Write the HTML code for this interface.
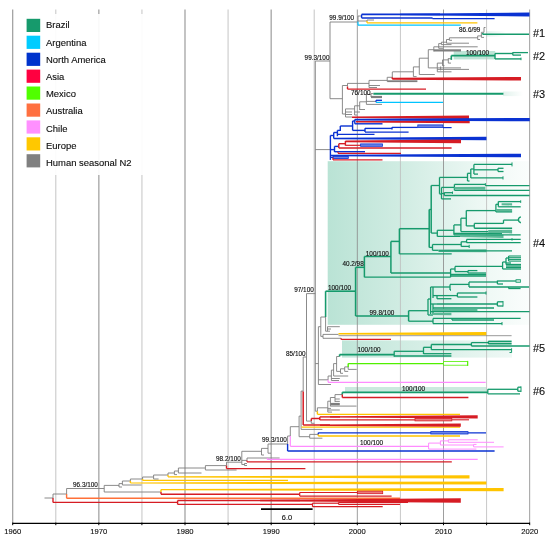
<!DOCTYPE html>
<html><head><meta charset="utf-8"><title>Phylogenetic tree</title>
<style>
html,body{margin:0;padding:0;background:#fff;}
body{width:550px;height:540px;overflow:hidden;}
svg{display:block;font-family:"Liberation Sans",sans-serif;fill:#0d0d0d;}
svg path:not([fill]){fill:none;}
svg text{stroke:#0d0d0d;stroke-width:0.12px;}
</style></head><body>
<svg width="550" height="540" viewBox="0 0 550 540">
<defs>
<linearGradient id="g4" x1="0" y1="0" x2="1" y2="0"><stop offset="0" stop-color="#14a070" stop-opacity="0.295"/><stop offset="0.36" stop-color="#14a070" stop-opacity="0.20"/><stop offset="0.8" stop-color="#14a070" stop-opacity="0.065"/><stop offset="1" stop-color="#14a070" stop-opacity="0.02"/></linearGradient>
<linearGradient id="g5" x1="0" y1="0" x2="1" y2="0"><stop offset="0" stop-color="#14a070" stop-opacity="0.27"/><stop offset="1" stop-color="#14a070" stop-opacity="0.07"/></linearGradient>
<linearGradient id="g1" x1="0" y1="0" x2="1" y2="0"><stop offset="0" stop-color="#169a6c" stop-opacity="0.13"/><stop offset="1" stop-color="#169a6c" stop-opacity="0"/></linearGradient>
</defs>
<rect width="550" height="540" fill="#fff"/>
<rect x="327.7" y="161.2" width="201.3" height="163.6" fill="url(#g4)"/>
<rect x="342" y="340.4" width="170" height="17.2" fill="url(#g5)"/>
<rect x="345" y="387" width="141.5" height="5" fill="#cbe9de"/>
<rect x="453.7" y="51" width="41.5" height="8.4" fill="#bfe4d6"/>
<rect x="486" y="31.2" width="20" height="5.4" fill="url(#g1)"/>
<rect x="503" y="91.5" width="20" height="4.6" fill="url(#g1)"/>
<path d="M12.67 9.5V523" stroke="#a4a4a4" stroke-width="1.3"/>
<path d="M55.75 9.5V523" stroke="#d2d2d2" stroke-width="1.3"/>
<path d="M98.84 9.5V523" stroke="#a4a4a4" stroke-width="1.3"/>
<path d="M141.92 9.5V523" stroke="#d2d2d2" stroke-width="1.3"/>
<path d="M185.00 9.5V523" stroke="#a4a4a4" stroke-width="1.3"/>
<path d="M228.09 9.5V523" stroke="#d2d2d2" stroke-width="1.3"/>
<path d="M271.17 9.5V523" stroke="#a4a4a4" stroke-width="1.3"/>
<path d="M314.25 9.5V523" stroke="#d2d2d2" stroke-width="1.3"/>
<path d="M357.34 9.5V523" stroke="#8c8c8c" stroke-width="0.85"/>
<path d="M400.42 9.5V523" stroke="#bebebe" stroke-width="0.85"/>
<path d="M443.50 9.5V523" stroke="#8c8c8c" stroke-width="0.85"/>
<path d="M486.59 9.5V523" stroke="#bebebe" stroke-width="0.85"/>
<path d="M529.67 9.5V523" stroke="#8c8c8c" stroke-width="0.85"/>
<path d="M44.5 498H53" stroke="#7e7e7e" stroke-width="0.9"/>
<path d="M53 494V498" stroke="#7e7e7e" stroke-width="0.9"/>
<path d="M53 498V502.4" stroke="#d61c24" stroke-width="1.4"/>
<path d="M53 502.4H177.6" stroke="#d61c24" stroke-width="1.4"/>
<path d="M177.6 500.5V504.4" stroke="#d61c24" stroke-width="1.4"/>
<path d="M177.6 504.4H312.5" stroke="#d61c24" stroke-width="1.2"/>
<path d="M312.5 503.2V506.7" stroke="#d61c24" stroke-width="1.2"/>
<path d="M312.5 503.2H338.5" stroke="#d61c24" stroke-width="1.2"/>
<path d="M338.5 502.4V504.3" stroke="#d61c24" stroke-width="1.2"/>
<path d="M338.5 502.4H408" stroke="#d61c24" stroke-width="1.1"/>
<path d="M338.5 504.4H400" stroke="#d61c24" stroke-width="1.1"/>
<path d="M312.5 506.7H382.7" stroke="#d61c24" stroke-width="1.2"/>
<path d="M53 494H66.6" stroke="#7e7e7e" stroke-width="0.9"/>
<path d="M66.6 488.5V494" stroke="#7e7e7e" stroke-width="0.9"/>
<path d="M66.6 494V498.3" stroke="#ff7038" stroke-width="1.4"/>
<path d="M66.6 498.3H400" stroke="#ff7038" stroke-width="1.5"/>
<path d="M177.6 500.5H300" stroke="#d61c24" stroke-width="1.4"/>
<path d="M260 499.8L460.8 498.3V502.7L260 501.2Z" fill="#d61c24" stroke="none"/>
<path d="M66.6 488.5H104.2" stroke="#7e7e7e" stroke-width="0.9"/>
<path d="M104.2 485.4V492" stroke="#7e7e7e" stroke-width="0.9"/>
<path d="M104.2 492H161" stroke="#7e7e7e" stroke-width="0.9"/>
<path d="M161 489.6V492" stroke="#ffc400" stroke-width="1.4"/>
<path d="M161 492V494.3" stroke="#d61c24" stroke-width="1.4"/>
<path d="M161 489L503.6 488V491.2L161 490.2Z" fill="#ffc400" stroke="none"/>
<path d="M161 494.3H299.7" stroke="#d61c24" stroke-width="1.4"/>
<path d="M299.7 492.5V496.1" stroke="#d61c24" stroke-width="1.2"/>
<path d="M299.7 492.5H357.4" stroke="#d61c24" stroke-width="1.2"/>
<rect x="357.4" y="491.1" width="25.3" height="2.6" fill="#e9787c" stroke="#d61c24" stroke-width="0.8"/>
<path d="M299.7 496.1H391.6" stroke="#d61c24" stroke-width="1.2"/>
<path d="M104.2 485.4H119" stroke="#7e7e7e" stroke-width="0.9"/>
<path d="M119 483.6V487" stroke="#7e7e7e" stroke-width="0.9"/>
<path d="M119 487H122" stroke="#7e7e7e" stroke-width="0.9"/>
<path d="M119 483.6H122.4" stroke="#7e7e7e" stroke-width="0.9"/>
<path d="M122.4 481V485" stroke="#7e7e7e" stroke-width="0.9"/>
<path d="M122.4 485H141.6" stroke="#7e7e7e" stroke-width="0.9"/>
<path d="M122.4 481H130.4" stroke="#7e7e7e" stroke-width="0.9"/>
<path d="M130.4 479V481" stroke="#7e7e7e" stroke-width="0.9"/>
<path d="M130.4 481V483" stroke="#ffc400" stroke-width="1.4"/>
<path d="M130.4 482.4L486.4 481.4V484.6L130.4 483.6Z" fill="#ffc400" stroke="none"/>
<path d="M130.4 479H142.6" stroke="#7e7e7e" stroke-width="0.9"/>
<path d="M142.6 477V479" stroke="#7e7e7e" stroke-width="0.9"/>
<path d="M142.6 479V480.4" stroke="#ffc400" stroke-width="1.4"/>
<path d="M142.6 480.4H288" stroke="#ffc400" stroke-width="1.3"/>
<path d="M142.6 477H153.6" stroke="#7e7e7e" stroke-width="0.9"/>
<path d="M153.6 475V479" stroke="#7e7e7e" stroke-width="0.9"/>
<path d="M153.6 479H158.6" stroke="#7e7e7e" stroke-width="0.9"/>
<path d="M153.6 475H168" stroke="#7e7e7e" stroke-width="0.9"/>
<path d="M168 473V475" stroke="#7e7e7e" stroke-width="0.9"/>
<path d="M168 475V476.8" stroke="#ffc400" stroke-width="1.4"/>
<path d="M168 476.2L469.5 475.2V478.4L168 477.4Z" fill="#ffc400" stroke="none"/>
<path d="M168 473H174.4" stroke="#7e7e7e" stroke-width="0.9"/>
<path d="M174.4 471V474.6" stroke="#7e7e7e" stroke-width="0.9"/>
<path d="M174.4 474.6H177" stroke="#7e7e7e" stroke-width="0.9"/>
<path d="M174.4 471H178.4" stroke="#7e7e7e" stroke-width="0.9"/>
<path d="M178.4 468V473" stroke="#7e7e7e" stroke-width="0.9"/>
<path d="M178.4 473H201.5" stroke="#7e7e7e" stroke-width="0.9"/>
<path d="M178.4 468H205.4" stroke="#7e7e7e" stroke-width="0.9"/>
<path d="M205.4 465.6V470" stroke="#7e7e7e" stroke-width="0.9"/>
<path d="M205.4 470H236.6" stroke="#7e7e7e" stroke-width="0.9"/>
<path d="M205.4 465.6H226.5" stroke="#7e7e7e" stroke-width="0.9"/>
<path d="M226.5 462.2V465.6" stroke="#7e7e7e" stroke-width="0.9"/>
<path d="M226.5 465.6V468.6" stroke="#d61c24" stroke-width="1.4"/>
<path d="M226.5 468.6H305.4" stroke="#d61c24" stroke-width="1.3"/>
<path d="M226.5 462.2H241.8" stroke="#7e7e7e" stroke-width="0.9"/>
<path d="M241.8 451.3V464.5" stroke="#7e7e7e" stroke-width="0.9"/>
<path d="M241.8 464.5H244.5" stroke="#7e7e7e" stroke-width="0.9"/>
<path d="M244.5 463.5V465.5" stroke="#7e7e7e" stroke-width="0.9"/>
<path d="M244.5 463.5H247" stroke="#7e7e7e" stroke-width="0.9"/>
<path d="M244.5 465.5H247" stroke="#7e7e7e" stroke-width="0.9"/>
<path d="M241.8 451.3H261.5" stroke="#7e7e7e" stroke-width="0.9"/>
<path d="M241.8 460.4H247" stroke="#7e7e7e" stroke-width="0.9"/>
<path d="M247 458V460.4" stroke="#7e7e7e" stroke-width="0.9"/>
<path d="M247 460.4V461.8" stroke="#d61c24" stroke-width="1.4"/>
<path d="M247 461.8H451.8" stroke="#d61c24" stroke-width="1.3"/>
<path d="M247 458H279.6" stroke="#7e7e7e" stroke-width="0.9"/>
<path d="M267.3 458V459.4" stroke="#ff8cff" stroke-width="1.2"/>
<path d="M267.3 459.4H477.7" stroke="#ff8cff" stroke-width="1.2"/>
<path d="M261.5 448.4V455" stroke="#7e7e7e" stroke-width="0.9"/>
<path d="M261.5 455H264" stroke="#7e7e7e" stroke-width="0.9"/>
<path d="M261.5 448.4H268" stroke="#7e7e7e" stroke-width="0.9"/>
<path d="M268 444V453.2" stroke="#7e7e7e" stroke-width="0.9"/>
<path d="M268 453.2H271" stroke="#7e7e7e" stroke-width="0.9"/>
<path d="M268 444H287.6" stroke="#7e7e7e" stroke-width="0.9"/>
<path d="M287.6 436V444" stroke="#7e7e7e" stroke-width="0.9"/>
<path d="M287.6 444V451" stroke="#0a32d2" stroke-width="1.4"/>
<path d="M287.6 451H494.6" stroke="#0a32d2" stroke-width="1.3"/>
<path d="M287.6 436H290.3" stroke="#7e7e7e" stroke-width="0.9"/>
<path d="M290.3 426.7V436" stroke="#7e7e7e" stroke-width="0.9"/>
<path d="M290.3 436V446.3" stroke="#ff8cff" stroke-width="1.2"/>
<path d="M290.3 446.3H428.6" stroke="#ff8cff" stroke-width="1.2"/>
<path d="M428.6 443.1V449.1" stroke="#ff8cff" stroke-width="1"/>
<path d="M428.6 443.1H440.4" stroke="#ff8cff" stroke-width="1"/>
<path d="M440.4 440.9V445" stroke="#ff8cff" stroke-width="1"/>
<path d="M440.4 440.9H448.3" stroke="#ff8cff" stroke-width="1"/>
<path d="M448.3 439.8V442.3" stroke="#ff8cff" stroke-width="1"/>
<path d="M448.3 439.8H477.7" stroke="#ff8cff" stroke-width="1"/>
<path d="M448.3 442.3H494" stroke="#ff8cff" stroke-width="1"/>
<path d="M440.4 445H473.6" stroke="#ff8cff" stroke-width="1"/>
<path d="M473.6 444.4V446.9" stroke="#ff8cff" stroke-width="1"/>
<path d="M473.6 444.4H476.5" stroke="#ff8cff" stroke-width="1"/>
<path d="M473.6 446.9H503.6" stroke="#ff8cff" stroke-width="1"/>
<path d="M428.6 449.1H476.4" stroke="#ff8cff" stroke-width="1"/>
<path d="M290.3 426.7H299.1" stroke="#7e7e7e" stroke-width="0.9"/>
<path d="M299.1 416.1V436.7" stroke="#7e7e7e" stroke-width="0.9"/>
<path d="M299.1 436.7H309.7" stroke="#7e7e7e" stroke-width="0.9"/>
<path d="M309.7 434.4V438.2" stroke="#7e7e7e" stroke-width="0.9"/>
<path d="M309.7 434.4H318.3" stroke="#7e7e7e" stroke-width="0.9"/>
<path d="M318.3 432.8V434.4" stroke="#0a32d2" stroke-width="1.4"/>
<path d="M318.3 434.4V436" stroke="#ffc400" stroke-width="1.4"/>
<path d="M318.3 432.8H486" stroke="#0a32d2" stroke-width="1.3"/>
<rect x="430.8" y="431.6" width="37.2" height="2.4" fill="#6a84e6" stroke="#0a32d2" stroke-width="0.8"/>
<path d="M318.3 436H460" stroke="#ffc400" stroke-width="1.3"/>
<path d="M309.7 438.2H322.4" stroke="#7e7e7e" stroke-width="0.9"/>
<path d="M299.1 416.1H301.1" stroke="#7e7e7e" stroke-width="0.9"/>
<path d="M301.1 391.1V429.4" stroke="#7e7e7e" stroke-width="0.9"/>
<path d="M301.1 429.4H322.4" stroke="#7e7e7e" stroke-width="0.9"/>
<path d="M301.5 427.2H460" stroke="#ffc400" stroke-width="1.3"/>
<path d="M301.1 391.1H303.2" stroke="#7e7e7e" stroke-width="0.9"/>
<path d="M303.2 357V391.5" stroke="#7e7e7e" stroke-width="0.9"/>
<path d="M303.2 391.5V425" stroke="#d61c24" stroke-width="1.5"/>
<path d="M303.2 425H330" stroke="#d61c24" stroke-width="1.5"/>
<path d="M320 424.4L460.8 423.6V426.8L320 425.9Z" fill="#d61c24" stroke="none"/>
<path d="M303.2 357H306.5" stroke="#7e7e7e" stroke-width="0.9"/>
<path d="M306.5 293.6V421.1" stroke="#7e7e7e" stroke-width="0.9"/>
<path d="M306.5 421.1H311.3" stroke="#7e7e7e" stroke-width="0.9"/>
<path d="M311.3 418.5V421.1" stroke="#d61c24" stroke-width="1.4"/>
<path d="M311.3 421.1V423.3" stroke="#7e7e7e" stroke-width="0.9"/>
<path d="M311.3 423.3H314.5" stroke="#7e7e7e" stroke-width="0.9"/>
<path d="M311.3 418.5H319.8" stroke="#d61c24" stroke-width="1.5"/>
<path d="M319.8 416.9V419.9" stroke="#d61c24" stroke-width="1.4"/>
<path d="M319.8 416.9H340" stroke="#d61c24" stroke-width="1.4"/>
<path d="M330 416.2L477.7 415.3V418.5L330 417.6Z" fill="#d61c24" stroke="none"/>
<path d="M319.8 419.9H415" stroke="#d61c24" stroke-width="1.2"/>
<rect x="415" y="418.5" width="36.8" height="2.4" fill="#e9787c" stroke="#d61c24" stroke-width="0.8"/>
<path d="M451.8 419.8H469" stroke="#d61c24" stroke-width="1.1"/>
<path d="M306.5 293.6H315.3" stroke="#7e7e7e" stroke-width="0.9"/>
<path d="M315.3 61V411.2" stroke="#7e7e7e" stroke-width="0.9"/>
<path d="M315.3 411.2H317.4" stroke="#7e7e7e" stroke-width="0.9"/>
<path d="M317.4 407.8V411.2" stroke="#7e7e7e" stroke-width="0.9"/>
<path d="M317.4 411.2V414.3" stroke="#ffc400" stroke-width="1.4"/>
<path d="M317.4 414.3H460" stroke="#ffc400" stroke-width="1.3"/>
<path d="M317.4 407.8H327.8" stroke="#7e7e7e" stroke-width="0.9"/>
<path d="M327.8 401.2V412.1" stroke="#7e7e7e" stroke-width="0.9"/>
<path d="M327.8 408.4H331" stroke="#7e7e7e" stroke-width="0.9"/>
<path d="M327.8 410H339.8" stroke="#7e7e7e" stroke-width="0.9"/>
<path d="M327.8 412.1H332" stroke="#7e7e7e" stroke-width="0.9"/>
<path d="M327.8 401.2H330.4" stroke="#7e7e7e" stroke-width="0.9"/>
<path d="M330.4 397.5V406.3" stroke="#7e7e7e" stroke-width="0.9"/>
<path d="M330.4 404.1H339.8" stroke="#7e7e7e" stroke-width="2.4"/>
<path d="M330.4 406.1H356.5" stroke="#7e7e7e" stroke-width="0.9"/>
<path d="M330.4 397.5H335" stroke="#7e7e7e" stroke-width="0.9"/>
<path d="M335 394.6V401.9" stroke="#7e7e7e" stroke-width="0.9"/>
<path d="M335 399H339.8" stroke="#7e7e7e" stroke-width="0.9"/>
<path d="M335 401.4H339.8" stroke="#7e7e7e" stroke-width="0.9"/>
<path d="M335 394.6H342.3" stroke="#7e7e7e" stroke-width="0.9"/>
<path d="M342.3 392.3V394.6" stroke="#169a6c" stroke-width="1.6"/>
<path d="M342.3 394.6V397.5" stroke="#d61c24" stroke-width="1.4"/>
<path d="M342.3 392.3H487.8" stroke="#169a6c" stroke-width="1.8"/>
<path d="M342.3 397.5H468.4" stroke="#d61c24" stroke-width="1.3"/>
<path d="M487.8 389.3V393.8" stroke="#169a6c" stroke-width="1.3"/>
<path d="M487.8 389.3H517.8" stroke="#169a6c" stroke-width="1.3"/>
<path d="M517.8 387.2V391.2" stroke="#169a6c" stroke-width="1.3"/>
<path d="M517.8 387.2H521" stroke="#169a6c" stroke-width="1.3"/>
<path d="M517.8 391.2H521" stroke="#169a6c" stroke-width="1.3"/>
<path d="M521 386.4V392" stroke="#169a6c" stroke-width="1"/>
<path d="M487.8 393.8H520" stroke="#169a6c" stroke-width="1.3"/>
<path d="M315.3 363.6H318.4" stroke="#7e7e7e" stroke-width="0.9"/>
<path d="M318.4 326.7V384.5" stroke="#7e7e7e" stroke-width="0.9"/>
<path d="M318.4 384.5H331" stroke="#7e7e7e" stroke-width="0.9"/>
<path d="M318.4 379.8H328.1" stroke="#7e7e7e" stroke-width="0.9"/>
<path d="M328.1 376V379.8" stroke="#7e7e7e" stroke-width="0.9"/>
<path d="M328.1 379.8V382.3" stroke="#ff8cff" stroke-width="1.2"/>
<path d="M328.1 382.3H485.7" stroke="#ff8cff" stroke-width="1.2"/>
<path d="M328.1 376H331.4" stroke="#7e7e7e" stroke-width="0.9"/>
<path d="M331.4 370.1V380.5" stroke="#7e7e7e" stroke-width="0.9"/>
<path d="M331.4 378.5H339.8" stroke="#7e7e7e" stroke-width="0.9"/>
<path d="M331.4 380.5H339" stroke="#7e7e7e" stroke-width="0.9"/>
<path d="M331.4 370.1H333.6" stroke="#7e7e7e" stroke-width="0.9"/>
<path d="M333.6 363.6V376" stroke="#7e7e7e" stroke-width="0.9"/>
<path d="M333.6 376H348.2" stroke="#7e7e7e" stroke-width="0.9"/>
<path d="M333.6 363.6H336.6" stroke="#7e7e7e" stroke-width="0.9"/>
<path d="M336.6 356.5V371.4" stroke="#7e7e7e" stroke-width="0.9"/>
<path d="M336.6 356.5H339.6" stroke="#7e7e7e" stroke-width="0.9"/>
<path d="M339.6 354.4V356.5" stroke="#169a6c" stroke-width="1.6"/>
<path d="M339.6 354.6H394.2" stroke="#169a6c" stroke-width="1.8"/>
<path d="M336.6 371.4H340.5" stroke="#7e7e7e" stroke-width="0.9"/>
<path d="M340.5 368.8V373.3" stroke="#7e7e7e" stroke-width="0.9"/>
<path d="M340.5 373.3H343" stroke="#7e7e7e" stroke-width="0.9"/>
<path d="M340.5 368.8H344.7" stroke="#7e7e7e" stroke-width="0.9"/>
<path d="M344.7 366.9V371.4" stroke="#7e7e7e" stroke-width="0.9"/>
<path d="M344.7 371.4H348.2" stroke="#7e7e7e" stroke-width="0.9"/>
<path d="M344.7 366.9H348.2" stroke="#7e7e7e" stroke-width="0.9"/>
<path d="M348.2 363.6V366.9" stroke="#50f000" stroke-width="1.4"/>
<path d="M348.2 366.9V369.4" stroke="#7e7e7e" stroke-width="0.9"/>
<path d="M348.2 369.4H356.7" stroke="#7e7e7e" stroke-width="0.9"/>
<path d="M348.2 363.6H443.6" stroke="#50f000" stroke-width="1.3"/>
<rect x="443.6" y="361.6" width="24.1" height="3.6" fill="#ffffff" stroke="#50f000" stroke-width="0.8"/>
<path d="M467.7 360.9V366" stroke="#50f000" stroke-width="1"/>
<path d="M394.2 351.3V356.8" stroke="#169a6c" stroke-width="1.3"/>
<path d="M394.2 351.3H423.5" stroke="#169a6c" stroke-width="1.3"/>
<path d="M394.2 356H451.4" stroke="#169a6c" stroke-width="1.3"/>
<path d="M423.5 347.3V354" stroke="#169a6c" stroke-width="1.3"/>
<path d="M423.5 347.3H431.3" stroke="#169a6c" stroke-width="1.3"/>
<path d="M423.5 353.7H451.4" stroke="#169a6c" stroke-width="1.3"/>
<path d="M431.3 344.5V349.7" stroke="#169a6c" stroke-width="1.3"/>
<path d="M431.3 344.5H471.4" stroke="#169a6c" stroke-width="1.3"/>
<path d="M431.3 349.7H511.6" stroke="#169a6c" stroke-width="1.3"/>
<path d="M511.6 348.3V352.5" stroke="#169a6c" stroke-width="1"/>
<path d="M509.5 352.5H511.6" stroke="#169a6c" stroke-width="1"/>
<path d="M471.4 342.6V346" stroke="#169a6c" stroke-width="1.3"/>
<path d="M471.4 342.6H488.4" stroke="#169a6c" stroke-width="1.3"/>
<path d="M488.4 341.2V344" stroke="#169a6c" stroke-width="1.3"/>
<path d="M488.4 341.4H511.6" stroke="#169a6c" stroke-width="1.6"/>
<path d="M488.4 343.7H511.6" stroke="#169a6c" stroke-width="1.6"/>
<path d="M471.4 346H529.6" stroke="#169a6c" stroke-width="1.3"/>
<path d="M318.4 326.7H320.8" stroke="#7e7e7e" stroke-width="0.9"/>
<path d="M320.8 317V336.4" stroke="#7e7e7e" stroke-width="0.9"/>
<path d="M320.8 317H325.6" stroke="#7e7e7e" stroke-width="0.9"/>
<path d="M325.6 291.2V317" stroke="#169a6c" stroke-width="1.6"/>
<path d="M325.6 317V331.2" stroke="#7e7e7e" stroke-width="0.9"/>
<path d="M325.6 331.2H330" stroke="#7e7e7e" stroke-width="0.9"/>
<path d="M327.5 326.7V331.2" stroke="#7e7e7e" stroke-width="0.9"/>
<path d="M327.5 326.7H339.8" stroke="#7e7e7e" stroke-width="0.9"/>
<path d="M327.5 329H331" stroke="#7e7e7e" stroke-width="0.9"/>
<path d="M320.8 336.4H323" stroke="#7e7e7e" stroke-width="0.9"/>
<path d="M323 334.4V338.3" stroke="#7e7e7e" stroke-width="0.9"/>
<path d="M323 334.4H338.5" stroke="#7e7e7e" stroke-width="0.9"/>
<path d="M338.5 335.7H511.6" stroke="#7e7e7e" stroke-width="0.8"/>
<path d="M338.5 333L486.3 332.1V335.3L338.5 334.4Z" fill="#ffc400" stroke="none"/>
<path d="M323 338.3H341.1" stroke="#7e7e7e" stroke-width="0.9"/>
<path d="M341.1 338.3V339.4" stroke="#d61c24" stroke-width="1.4"/>
<path d="M341.1 339.4H391" stroke="#d61c24" stroke-width="1.3"/>
<path d="M325.6 291.2H355.6" stroke="#169a6c" stroke-width="1.6"/>
<path d="M355.6 267.3V316" stroke="#169a6c" stroke-width="1.6"/>
<path d="M355.6 267.3H364.4" stroke="#169a6c" stroke-width="1.6"/>
<path d="M355.6 316H408.6" stroke="#169a6c" stroke-width="1.5"/>
<path d="M364.4 256.5V277.3" stroke="#169a6c" stroke-width="1.5"/>
<path d="M364.4 256.5H390.9" stroke="#169a6c" stroke-width="1.5"/>
<path d="M364.4 277.2H450.6" stroke="#169a6c" stroke-width="1.3"/>
<path d="M390.9 241.4V273" stroke="#169a6c" stroke-width="1.5"/>
<path d="M390.9 241.4H399.4" stroke="#169a6c" stroke-width="1.5"/>
<path d="M390.9 273H450.6" stroke="#169a6c" stroke-width="1.3"/>
<path d="M399.4 228.7V253.9" stroke="#169a6c" stroke-width="1.5"/>
<path d="M399.4 228.7H429.2" stroke="#169a6c" stroke-width="1.5"/>
<path d="M399.4 253.9H451.7" stroke="#169a6c" stroke-width="1.3"/>
<path d="M429.2 209.5V247.4" stroke="#169a6c" stroke-width="1.5"/>
<path d="M429.2 209.5H431.2" stroke="#169a6c" stroke-width="1.3"/>
<path d="M431.2 185.5V233.1" stroke="#169a6c" stroke-width="1.5"/>
<path d="M431.2 185.5H439.5" stroke="#169a6c" stroke-width="1.3"/>
<path d="M439.5 177.4V193.2" stroke="#169a6c" stroke-width="1.3"/>
<path d="M439.5 177.4H467.5" stroke="#169a6c" stroke-width="1.3"/>
<path d="M467.5 173.3V181" stroke="#169a6c" stroke-width="1.3"/>
<path d="M467.5 181H469.5" stroke="#169a6c" stroke-width="1.3"/>
<path d="M467.5 173.3H470.8" stroke="#169a6c" stroke-width="1.3"/>
<path d="M470.8 169V177.9" stroke="#169a6c" stroke-width="1.3"/>
<path d="M470.8 177.9H503" stroke="#169a6c" stroke-width="1.3"/>
<path d="M503 176.3V179.5" stroke="#169a6c" stroke-width="1"/>
<path d="M470.8 169H473.9" stroke="#169a6c" stroke-width="1.3"/>
<path d="M473.9 164.4V174.1" stroke="#169a6c" stroke-width="1.3"/>
<path d="M473.9 164.4H512" stroke="#169a6c" stroke-width="1.3"/>
<path d="M512 162.4V166.4" stroke="#169a6c" stroke-width="1"/>
<path d="M473.9 174.1H478" stroke="#169a6c" stroke-width="1.3"/>
<path d="M473.9 169.8H498" stroke="#169a6c" stroke-width="1.3"/>
<path d="M498 168.3V171.5" stroke="#169a6c" stroke-width="1.3"/>
<path d="M498 168.3H503.5" stroke="#169a6c" stroke-width="1.3"/>
<path d="M498 171.5H503.5" stroke="#169a6c" stroke-width="1.3"/>
<path d="M439.5 193.2V194" stroke="#169a6c" stroke-width="1.3"/>
<path d="M439.5 194H441.5" stroke="#169a6c" stroke-width="1.3"/>
<path d="M441.5 187.4V198.9" stroke="#169a6c" stroke-width="1.3"/>
<path d="M441.5 187.4H454.4" stroke="#169a6c" stroke-width="1.3"/>
<path d="M454.4 184.4V190.3" stroke="#169a6c" stroke-width="1.3"/>
<path d="M454.4 184.4H485.4" stroke="#169a6c" stroke-width="1.3"/>
<path d="M485.4 183.2V185.8" stroke="#169a6c" stroke-width="1"/>
<path d="M485.4 185.7H529.5" stroke="#169a6c" stroke-width="1.3"/>
<path d="M454.4 187.1L485.4 186.8V189.8L454.4 189.5Z" fill="#5bb896" stroke="none"/>
<path d="M454.4 190.3H529.5" stroke="#169a6c" stroke-width="1.3"/>
<path d="M441.5 193.5H444.3" stroke="#169a6c" stroke-width="1.3"/>
<path d="M444.3 192.6V195.5" stroke="#169a6c" stroke-width="1.3"/>
<path d="M444.3 192.7H452.5" stroke="#169a6c" stroke-width="1.3"/>
<path d="M452.5 191.5V193.9" stroke="#169a6c" stroke-width="1"/>
<path d="M444.3 195.5H529.5" stroke="#169a6c" stroke-width="1.3"/>
<path d="M441.5 198.9H451" stroke="#169a6c" stroke-width="1.3"/>
<path d="M431.2 233.1H437.3" stroke="#169a6c" stroke-width="1.3"/>
<path d="M437.3 230.3V236.4" stroke="#169a6c" stroke-width="1.3"/>
<path d="M437.3 230.3H453.9" stroke="#169a6c" stroke-width="1.3"/>
<path d="M437.3 236.4H470" stroke="#169a6c" stroke-width="1.3"/>
<path d="M460 235.8L503.5 234.8V238L460 237.1Z" fill="#5bb896" stroke="none"/>
<path d="M453.9 224.9V234.8" stroke="#169a6c" stroke-width="1.3"/>
<path d="M453.9 224.9H460.9" stroke="#169a6c" stroke-width="1.3"/>
<path d="M453.9 233.5H502" stroke="#169a6c" stroke-width="1.3"/>
<path d="M453.9 234.9H520.7" stroke="#169a6c" stroke-width="1.3"/>
<path d="M460.9 218.2V231.6" stroke="#169a6c" stroke-width="1.3"/>
<path d="M460.9 218.2H466.3" stroke="#169a6c" stroke-width="1.3"/>
<path d="M460.9 231.6H488.2" stroke="#169a6c" stroke-width="1.3"/>
<path d="M488.2 230.1L512.1 229.8V233.4L488.2 233.1Z" fill="#5bb896" stroke="none"/>
<path d="M466.3 210.6V225.9" stroke="#169a6c" stroke-width="1.3"/>
<path d="M466.3 210.6H495.9" stroke="#169a6c" stroke-width="1.3"/>
<path d="M466.3 225.9H474.3" stroke="#169a6c" stroke-width="1.3"/>
<path d="M474.3 223.4V228.3" stroke="#169a6c" stroke-width="1.3"/>
<path d="M474.3 223.4H503.5" stroke="#169a6c" stroke-width="1.3"/>
<path d="M474.3 228.3H512.1" stroke="#169a6c" stroke-width="1.5"/>
<path d="M503.5 220.1V223.4" stroke="#169a6c" stroke-width="1.3"/>
<path d="M503.5 220.1H518.8" stroke="#169a6c" stroke-width="1.3"/>
<path d="M520.9 216.9C517.6 217.6 517.6 222 520.9 222.7" stroke="#169a6c" stroke-width="1.4"/>
<path d="M495.9 204.3V211.9" stroke="#169a6c" stroke-width="1.3"/>
<path d="M495.9 204.3H498.3" stroke="#169a6c" stroke-width="1.3"/>
<path d="M498.3 201.6V206.8" stroke="#169a6c" stroke-width="1.3"/>
<path d="M498.3 201.6H520.7" stroke="#169a6c" stroke-width="1.3"/>
<path d="M520.7 200.3V202.9" stroke="#169a6c" stroke-width="1"/>
<path d="M501.6 203.3L512.1 203.2V205.4L501.6 205.3Z" fill="#5bb896" stroke="none"/>
<path d="M498.3 206.8H520.7" stroke="#169a6c" stroke-width="1.3"/>
<path d="M495.9 209.1L512.1 209V211.4L495.9 211.3Z" fill="#5bb896" stroke="none"/>
<path d="M495.9 211.9H512.1" stroke="#169a6c" stroke-width="1.3"/>
<path d="M429.2 247.4H432.5" stroke="#169a6c" stroke-width="1.3"/>
<path d="M432.5 244.5V250.3" stroke="#169a6c" stroke-width="1.3"/>
<path d="M432.5 244.5H461.2" stroke="#169a6c" stroke-width="1.3"/>
<path d="M461.2 241.8V246.4" stroke="#169a6c" stroke-width="1.3"/>
<path d="M461.2 241.8H466.6" stroke="#169a6c" stroke-width="1.3"/>
<path d="M466.6 239.4V242.7" stroke="#169a6c" stroke-width="1.3"/>
<path d="M466.6 239.4H520.7" stroke="#169a6c" stroke-width="1.3"/>
<path d="M512 238.2V240.6" stroke="#169a6c" stroke-width="1"/>
<path d="M466.6 242.7H520.7" stroke="#169a6c" stroke-width="1.3"/>
<path d="M461.2 246.4H469.2" stroke="#169a6c" stroke-width="1.3"/>
<path d="M469.2 244.8V248" stroke="#169a6c" stroke-width="1"/>
<path d="M432.5 250.3H438.6" stroke="#169a6c" stroke-width="1.3"/>
<path d="M438.6 249.6L486.6 249.3V252.3L438.6 252Z" fill="#5bb896" stroke="none"/>
<path d="M438.6 250.8H512" stroke="#169a6c" stroke-width="1.3"/>
<path d="M450.6 269V277.2" stroke="#169a6c" stroke-width="1.3"/>
<path d="M450.6 269H455" stroke="#169a6c" stroke-width="1.3"/>
<path d="M455 266.4V271.6" stroke="#169a6c" stroke-width="1.3"/>
<path d="M455 266.4H502.6" stroke="#169a6c" stroke-width="1.3"/>
<path d="M455 271.6H468" stroke="#169a6c" stroke-width="1.3"/>
<path d="M468 270.6V273" stroke="#169a6c" stroke-width="1.3"/>
<path d="M468 270.6H477.4" stroke="#169a6c" stroke-width="1.3"/>
<path d="M468 273H486" stroke="#169a6c" stroke-width="1.3"/>
<path d="M450.6 274.5H486" stroke="#169a6c" stroke-width="1.3"/>
<path d="M450.6 276H486" stroke="#169a6c" stroke-width="1.3"/>
<path d="M502.6 262V269" stroke="#169a6c" stroke-width="1.3"/>
<path d="M502.6 262H506" stroke="#169a6c" stroke-width="1.3"/>
<path d="M506 258V264.4" stroke="#169a6c" stroke-width="1.3"/>
<path d="M506 258H508.6" stroke="#169a6c" stroke-width="1.3"/>
<path d="M508.6 256V261" stroke="#169a6c" stroke-width="1.3"/>
<path d="M508.6 256H521" stroke="#169a6c" stroke-width="1.1"/>
<path d="M508.6 257.7H521" stroke="#169a6c" stroke-width="1.1"/>
<path d="M508.6 259.4H521" stroke="#169a6c" stroke-width="1.1"/>
<path d="M508.6 261.1H521" stroke="#169a6c" stroke-width="1.1"/>
<path d="M506 263H511" stroke="#169a6c" stroke-width="1.3"/>
<path d="M506 264.5H521" stroke="#169a6c" stroke-width="1.3"/>
<path d="M506 266H521" stroke="#169a6c" stroke-width="1.3"/>
<path d="M506 267.5H521" stroke="#169a6c" stroke-width="1.3"/>
<path d="M502.6 269H521" stroke="#169a6c" stroke-width="1.3"/>
<path d="M408.6 310.7V321.2" stroke="#169a6c" stroke-width="1.5"/>
<path d="M408.6 310.7H428" stroke="#169a6c" stroke-width="1.3"/>
<path d="M408.6 321.2H433" stroke="#169a6c" stroke-width="1.3"/>
<path d="M428 299V315" stroke="#169a6c" stroke-width="1.3"/>
<path d="M428 299H430.6" stroke="#169a6c" stroke-width="1.3"/>
<path d="M430.6 287V314" stroke="#169a6c" stroke-width="1.3"/>
<path d="M430.6 287H433" stroke="#169a6c" stroke-width="1.3"/>
<path d="M433 287V298" stroke="#169a6c" stroke-width="1.3"/>
<path d="M433 287H450" stroke="#169a6c" stroke-width="1.3"/>
<path d="M450 284.4V290" stroke="#169a6c" stroke-width="1.3"/>
<path d="M450 290H451" stroke="#169a6c" stroke-width="1.3"/>
<path d="M450 284.4H469" stroke="#169a6c" stroke-width="1.3"/>
<path d="M469 282V287" stroke="#169a6c" stroke-width="1.3"/>
<path d="M469 282H497.4" stroke="#169a6c" stroke-width="1.3"/>
<path d="M497.4 280.6V284" stroke="#169a6c" stroke-width="1.3"/>
<path d="M497.4 284H503" stroke="#169a6c" stroke-width="1.3"/>
<path d="M497.4 281H516" stroke="#169a6c" stroke-width="1.3"/>
<rect x="516" y="279.7" width="4.6" height="2.6" fill="#bfe4d6" stroke="#169a6c" stroke-width="0.8"/>
<path d="M469 287H529" stroke="#169a6c" stroke-width="1.3"/>
<path d="M508.6 287V288.5" stroke="#169a6c" stroke-width="1.3"/>
<path d="M508.6 288.5H520.6" stroke="#169a6c" stroke-width="1.3"/>
<path d="M433 295.6H437" stroke="#169a6c" stroke-width="1.3"/>
<path d="M437 295.6V298.8" stroke="#169a6c" stroke-width="1.3"/>
<path d="M437 295.6H457.4" stroke="#169a6c" stroke-width="1.3"/>
<path d="M457.4 293V297" stroke="#169a6c" stroke-width="1.3"/>
<path d="M457.4 293H486" stroke="#169a6c" stroke-width="1.3"/>
<path d="M486 291.4V294.6" stroke="#169a6c" stroke-width="1"/>
<path d="M457.4 297H477.4" stroke="#169a6c" stroke-width="1.3"/>
<path d="M437 298.7H451.4" stroke="#169a6c" stroke-width="1.3"/>
<path d="M430.6 304H437" stroke="#169a6c" stroke-width="1.3"/>
<path d="M437 304H497.4" stroke="#169a6c" stroke-width="1.3"/>
<path d="M497.4 301.8V306" stroke="#169a6c" stroke-width="1.3"/>
<path d="M497.4 301.8H503" stroke="#169a6c" stroke-width="1.3"/>
<path d="M497.4 306H503" stroke="#169a6c" stroke-width="1.3"/>
<path d="M503 301V306.6" stroke="#169a6c" stroke-width="1"/>
<path d="M433 304V314" stroke="#169a6c" stroke-width="1.3"/>
<path d="M433 308H494" stroke="#169a6c" stroke-width="1.3"/>
<path d="M433 309L477.4 308.8V311.2L433 311Z" fill="#5bb896" stroke="none"/>
<path d="M430.6 311.6H529.5" stroke="#169a6c" stroke-width="1.3"/>
<path d="M433 312.9L451.4 312.7V315.3L433 315.1Z" fill="#5bb896" stroke="none"/>
<path d="M428 315H433" stroke="#169a6c" stroke-width="1.3"/>
<path d="M433 318.4V323.6" stroke="#169a6c" stroke-width="1.3"/>
<path d="M433 318.4H520.6" stroke="#169a6c" stroke-width="1.3"/>
<path d="M452 318.4V320" stroke="#169a6c" stroke-width="1.3"/>
<path d="M452 320H494" stroke="#169a6c" stroke-width="1.3"/>
<path d="M433 323.6H502" stroke="#169a6c" stroke-width="1.3"/>
<path d="M502 322V325.2" stroke="#169a6c" stroke-width="1"/>
<path d="M315.3 61H330" stroke="#7e7e7e" stroke-width="0.9"/>
<path d="M330 22V98.7" stroke="#7e7e7e" stroke-width="0.9"/>
<path d="M330 22H358" stroke="#7e7e7e" stroke-width="0.9"/>
<path d="M358 16V21.5" stroke="#7e7e7e" stroke-width="0.9"/>
<path d="M358 21.5V25.2" stroke="#00c4ff" stroke-width="1.2"/>
<path d="M358 25.2H460.8" stroke="#00c4ff" stroke-width="1.3"/>
<path d="M358 16H361.6" stroke="#7e7e7e" stroke-width="0.9"/>
<path d="M361.6 14.4V17.9" stroke="#0a32d2" stroke-width="1.4"/>
<path d="M361.6 14.4H440" stroke="#0a32d2" stroke-width="1.7"/>
<path d="M400 13.7L529.5 12.6V16.4L400 15.3Z" fill="#0a32d2" stroke="none"/>
<path d="M361.6 17.9H432.5" stroke="#0a32d2" stroke-width="1.5"/>
<path d="M432.5 17.9V18.6" stroke="#0a32d2" stroke-width="1.4"/>
<path d="M432.5 18.6H494.6" stroke="#0a32d2" stroke-width="1.3"/>
<path d="M358 21H367" stroke="#7e7e7e" stroke-width="0.9"/>
<path d="M367 20V21" stroke="#7e7e7e" stroke-width="0.9"/>
<path d="M367 21V22.8" stroke="#ffc400" stroke-width="1.4"/>
<path d="M367 20H374" stroke="#7e7e7e" stroke-width="0.9"/>
<path d="M367 22.8H477.4" stroke="#ffc400" stroke-width="1.3"/>
<path d="M330 98.7H342.4" stroke="#7e7e7e" stroke-width="0.9"/>
<path d="M342.4 85.5V114" stroke="#7e7e7e" stroke-width="0.9"/>
<path d="M342.4 85.5H347.5" stroke="#7e7e7e" stroke-width="0.9"/>
<path d="M347.5 83.4V86.5" stroke="#7e7e7e" stroke-width="0.9"/>
<path d="M347.5 86.5V89.1" stroke="#d61c24" stroke-width="1.4"/>
<path d="M347.5 89.1H426" stroke="#d61c24" stroke-width="1.3"/>
<path d="M347.5 83.4H369" stroke="#7e7e7e" stroke-width="0.9"/>
<path d="M369 80.4V87.5" stroke="#7e7e7e" stroke-width="0.9"/>
<path d="M369 80.4H387.2" stroke="#7e7e7e" stroke-width="0.9"/>
<path d="M369 85.5H380" stroke="#7e7e7e" stroke-width="0.9"/>
<path d="M369 87.5H377" stroke="#7e7e7e" stroke-width="0.9"/>
<path d="M366.4 94.5V104.4" stroke="#7e7e7e" stroke-width="0.9"/>
<path d="M366.4 94.5H371" stroke="#7e7e7e" stroke-width="0.9"/>
<path d="M371 93.6V97" stroke="#7e7e7e" stroke-width="0.9"/>
<path d="M371 93.6H373.4" stroke="#7e7e7e" stroke-width="0.9"/>
<path d="M373.4 93.8H503.4" stroke="#169a6c" stroke-width="1.9"/>
<path d="M371 97H382" stroke="#7e7e7e" stroke-width="2.2"/>
<path d="M366.4 101.4H376" stroke="#7e7e7e" stroke-width="0.9"/>
<path d="M376 100.3V102.3" stroke="#0a32d2" stroke-width="1.2"/>
<path d="M376 100.3H382" stroke="#0a32d2" stroke-width="1.3"/>
<path d="M376 102.3H443" stroke="#00c4ff" stroke-width="1.3"/>
<path d="M366.4 104.4H382" stroke="#7e7e7e" stroke-width="0.9"/>
<path d="M359.7 101.8V110" stroke="#7e7e7e" stroke-width="0.9"/>
<path d="M359.7 101.8H366.4" stroke="#7e7e7e" stroke-width="0.9"/>
<path d="M359.7 109.5H365" stroke="#7e7e7e" stroke-width="0.9"/>
<path d="M354.6 105.8V115" stroke="#7e7e7e" stroke-width="0.9"/>
<path d="M354.6 105.8H359.7" stroke="#7e7e7e" stroke-width="0.9"/>
<path d="M354.6 112H360" stroke="#7e7e7e" stroke-width="0.9"/>
<path d="M354.6 115H357" stroke="#7e7e7e" stroke-width="0.9"/>
<path d="M342.4 114H345.5" stroke="#7e7e7e" stroke-width="0.9"/>
<path d="M345.5 108.9V117" stroke="#7e7e7e" stroke-width="0.9"/>
<path d="M345.5 108.9H354.6" stroke="#7e7e7e" stroke-width="0.9"/>
<path d="M345.5 112H352" stroke="#7e7e7e" stroke-width="0.9"/>
<path d="M345.5 114.5H352" stroke="#7e7e7e" stroke-width="0.9"/>
<path d="M345.5 117H352" stroke="#7e7e7e" stroke-width="0.9"/>
<path d="M352 116.4L469 115.4V119L352 118Z" fill="#d61c24" stroke="none"/>
<path d="M387.2 77.3V81.4" stroke="#7e7e7e" stroke-width="0.9"/>
<path d="M387.2 77.3H392.3" stroke="#7e7e7e" stroke-width="0.9"/>
<path d="M392.3 72V77.3" stroke="#7e7e7e" stroke-width="0.9"/>
<path d="M392.3 77.3V79" stroke="#d61c24" stroke-width="1.4"/>
<path d="M392.3 77.8L521 77V80.6L392.3 79.8Z" fill="#d61c24" stroke="none"/>
<path d="M387.2 81.2H417.4" stroke="#7e7e7e" stroke-width="1.8"/>
<path d="M392.3 71.8H413.4" stroke="#7e7e7e" stroke-width="0.9"/>
<path d="M413.4 66.9V76.6" stroke="#7e7e7e" stroke-width="0.9"/>
<path d="M413.4 76.6H416.6" stroke="#7e7e7e" stroke-width="0.9"/>
<path d="M413.4 66.9H419.3" stroke="#7e7e7e" stroke-width="0.9"/>
<path d="M419.3 58.2V74.5" stroke="#7e7e7e" stroke-width="0.9"/>
<path d="M419.3 74.5H434.8" stroke="#7e7e7e" stroke-width="0.9"/>
<path d="M419.3 58.2H428.3" stroke="#7e7e7e" stroke-width="0.9"/>
<path d="M428.3 49.7V67.9" stroke="#7e7e7e" stroke-width="0.9"/>
<path d="M428.3 49.7H433.8" stroke="#7e7e7e" stroke-width="0.9"/>
<path d="M428.3 67.9H437.3" stroke="#7e7e7e" stroke-width="0.9"/>
<path d="M433.8 46.8V51.5" stroke="#7e7e7e" stroke-width="0.9"/>
<path d="M433.8 46.8H438.7" stroke="#7e7e7e" stroke-width="0.9"/>
<path d="M433.8 50.4H461" stroke="#7e7e7e" stroke-width="2.2"/>
<path d="M438.7 43.6V48.3" stroke="#7e7e7e" stroke-width="0.9"/>
<path d="M438.7 43.6H441.4" stroke="#7e7e7e" stroke-width="0.9"/>
<path d="M438.7 46.8H477.7" stroke="#7e7e7e" stroke-width="0.9"/>
<path d="M438.7 48.3H443" stroke="#7e7e7e" stroke-width="0.9"/>
<path d="M441.4 42.2V44.6" stroke="#7e7e7e" stroke-width="0.9"/>
<path d="M441.4 42.2H446.5" stroke="#7e7e7e" stroke-width="0.9"/>
<path d="M441.4 44.6H451.5" stroke="#7e7e7e" stroke-width="0.9"/>
<path d="M446.5 39.5V43.2" stroke="#7e7e7e" stroke-width="0.9"/>
<path d="M446.5 39.5H449.4" stroke="#7e7e7e" stroke-width="0.9"/>
<path d="M446.5 43.2H469" stroke="#7e7e7e" stroke-width="0.9"/>
<path d="M449.4 37.8V40.3" stroke="#7e7e7e" stroke-width="0.9"/>
<path d="M449.4 37.8H477.7" stroke="#7e7e7e" stroke-width="0.9"/>
<path d="M449.4 40.3H452" stroke="#7e7e7e" stroke-width="0.9"/>
<path d="M477.7 35.9V39.5" stroke="#7e7e7e" stroke-width="0.9"/>
<path d="M477.7 39.5H480" stroke="#7e7e7e" stroke-width="0.9"/>
<path d="M477.7 35.9H481.4" stroke="#7e7e7e" stroke-width="0.9"/>
<path d="M481.4 32.3V37.4" stroke="#7e7e7e" stroke-width="0.9"/>
<path d="M481.4 32.3H484" stroke="#7e7e7e" stroke-width="0.9"/>
<path d="M484 27.5V32.3" stroke="#7e7e7e" stroke-width="0.9"/>
<path d="M484 27.5H485.5" stroke="#7e7e7e" stroke-width="0.9"/>
<path d="M481.4 37.4H484" stroke="#7e7e7e" stroke-width="0.9"/>
<path d="M482.8 33V34.4" stroke="#169a6c" stroke-width="1.4"/>
<path d="M482.8 34.3H529" stroke="#169a6c" stroke-width="1.6"/>
<path d="M437.3 63.1V71.8" stroke="#7e7e7e" stroke-width="0.9"/>
<path d="M437.3 63.1H442.5" stroke="#7e7e7e" stroke-width="0.9"/>
<path d="M437.3 67.9H461" stroke="#7e7e7e" stroke-width="0.9"/>
<path d="M437.3 69.4H440.6" stroke="#7e7e7e" stroke-width="0.9"/>
<path d="M440.6 66.5V70.4" stroke="#7e7e7e" stroke-width="0.9"/>
<path d="M440.6 69.4H469" stroke="#7e7e7e" stroke-width="0.9"/>
<path d="M437.3 71.8H451.5" stroke="#7e7e7e" stroke-width="0.9"/>
<path d="M442.5 59.9V65.7" stroke="#7e7e7e" stroke-width="0.9"/>
<path d="M442.5 59.9H448.3" stroke="#7e7e7e" stroke-width="0.9"/>
<path d="M442.5 65.7H444.5" stroke="#7e7e7e" stroke-width="0.9"/>
<path d="M448.3 58.2V63.1" stroke="#7e7e7e" stroke-width="0.9"/>
<path d="M448.3 58.7H451.3" stroke="#7e7e7e" stroke-width="0.9"/>
<path d="M448.3 63.1H451" stroke="#7e7e7e" stroke-width="0.9"/>
<path d="M451.3 55.6V59.9" stroke="#169a6c" stroke-width="1.6"/>
<path d="M451.3 55.6H495" stroke="#169a6c" stroke-width="1.9"/>
<path d="M495 53.5V58.9" stroke="#169a6c" stroke-width="1.4"/>
<path d="M495 53.5H512.8" stroke="#169a6c" stroke-width="1.4"/>
<path d="M512.8 52.3V55.2" stroke="#169a6c" stroke-width="1.3"/>
<path d="M512.8 52.6H528" stroke="#169a6c" stroke-width="1.3"/>
<path d="M512.8 55.1H521" stroke="#169a6c" stroke-width="1.3"/>
<path d="M495 58.9H521" stroke="#169a6c" stroke-width="1.4"/>
<path d="M521 57.6V60.2" stroke="#169a6c" stroke-width="1"/>
<path d="M315.3 149.6H330.4" stroke="#7e7e7e" stroke-width="0.9"/>
<path d="M330.4 135.5V159.9" stroke="#0a32d2" stroke-width="1.4"/>
<path d="M330.4 135.5H333.7" stroke="#0a32d2" stroke-width="1.4"/>
<path d="M333.7 132.5V138.6" stroke="#0a32d2" stroke-width="1.4"/>
<path d="M333.7 132.5H337.4" stroke="#0a32d2" stroke-width="1.4"/>
<path d="M333.7 137.7L486.5 136.8V140.2L333.7 139.3Z" fill="#0a32d2" stroke="none"/>
<path d="M337.4 130.4V136.2" stroke="#0a32d2" stroke-width="1.4"/>
<path d="M337.4 130.4H340.3" stroke="#0a32d2" stroke-width="1.4"/>
<path d="M337.4 134.4H374.5" stroke="#0a32d2" stroke-width="1.4"/>
<path d="M340.3 126V131" stroke="#0a32d2" stroke-width="1.4"/>
<path d="M340.3 126H352.6" stroke="#0a32d2" stroke-width="1.4"/>
<path d="M352.6 120.9V130.4" stroke="#0a32d2" stroke-width="1.4"/>
<path d="M352.6 121H354.8" stroke="#0a32d2" stroke-width="1.4"/>
<path d="M354.8 119.6V123.8" stroke="#0a32d2" stroke-width="1.4"/>
<path d="M356 121L469.7 120.1V123.3L356 122.4Z" fill="#d61c24" stroke="none"/>
<path d="M354.8 118.8L529.8 117.9V121.3L354.8 120.4Z" fill="#0a32d2" stroke="none"/>
<path d="M354.8 123.8H382.5" stroke="#0a32d2" stroke-width="1.4"/>
<path d="M352.6 130.4H365" stroke="#0a32d2" stroke-width="1.4"/>
<path d="M365 128.2V132.1" stroke="#0a32d2" stroke-width="1.4"/>
<path d="M365 128.4H392" stroke="#0a32d2" stroke-width="1.4"/>
<path d="M392 127.2V129.5" stroke="#0a32d2" stroke-width="1.4"/>
<path d="M392 127.4H417.8" stroke="#0a32d2" stroke-width="1.3"/>
<rect x="417.8" y="124.9" width="25.2" height="2.6" fill="#6a84e6" stroke="#0a32d2" stroke-width="0.8"/>
<path d="M443 127.6H451.6" stroke="#0a32d2" stroke-width="1.2"/>
<path d="M365 132.1H408.6" stroke="#0a32d2" stroke-width="1.4"/>
<path d="M330.4 149.6H334.5" stroke="#0a32d2" stroke-width="1.4"/>
<path d="M334.5 146.4V152" stroke="#0a32d2" stroke-width="1.4"/>
<path d="M334.5 146.4H338.8" stroke="#0a32d2" stroke-width="1.4"/>
<path d="M338.8 143.7V148" stroke="#d61c24" stroke-width="1.4"/>
<path d="M338.8 143.7H345.4" stroke="#d61c24" stroke-width="1.4"/>
<path d="M345.4 141V145.6" stroke="#d61c24" stroke-width="1.4"/>
<path d="M345.4 140.6L461 139.6V143.2L345.4 142.2Z" fill="#d61c24" stroke="none"/>
<path d="M345.4 145.3H360.6" stroke="#d61c24" stroke-width="1.2"/>
<rect x="360.6" y="143.9" width="21.9" height="2.4" fill="#6a84e6" stroke="#0a32d2" stroke-width="0.8"/>
<path d="M338.8 148H451.6" stroke="#d61c24" stroke-width="1.4"/>
<path d="M334.5 151.7H365" stroke="#0a32d2" stroke-width="1.4"/>
<path d="M338 153.3H401" stroke="#d61c24" stroke-width="1.3"/>
<path d="M338 151.7V153.3" stroke="#d61c24" stroke-width="1.2"/>
<path d="M330.4 154.7L521 153.8V157.2L330.4 156.3Z" fill="#0a32d2" stroke="none"/>
<path d="M330.4 157.4H333" stroke="#0a32d2" stroke-width="1.2"/>
<rect x="333" y="156.4" width="15.3" height="2.2" fill="#6a84e6" stroke="#0a32d2" stroke-width="0.8"/>
<path d="M333 157.4V159.9" stroke="#d61c24" stroke-width="1.2"/>
<path d="M333 159.9H382.5" stroke="#d61c24" stroke-width="1.3"/>
<text x="329.3" y="20.4" font-size="6.4" text-anchor="start" >99.9/100</text>
<text x="304.6" y="59.6" font-size="6.4" text-anchor="start" >99.3/100</text>
<text x="459" y="31.8" font-size="6.4" text-anchor="start" >86.6/99</text>
<text x="466" y="55" font-size="6.4" text-anchor="start" >100/100</text>
<text x="351" y="95" font-size="6.4" text-anchor="start" >76/100</text>
<text x="328" y="290" font-size="6.4" text-anchor="start" >100/100</text>
<text x="342.4" y="266" font-size="6.4" text-anchor="start" >40.2/98</text>
<text x="365.8" y="255.8" font-size="6.4" text-anchor="start" >100/100</text>
<text x="369.5" y="314.9" font-size="6.4" text-anchor="start" >99.8/100</text>
<text x="294.2" y="291.6" font-size="6.4" text-anchor="start" >97/100</text>
<text x="286" y="356.2" font-size="6.4" text-anchor="start" >85/100</text>
<text x="357.5" y="351.8" font-size="6.4" text-anchor="start" >100/100</text>
<text x="402" y="391.2" font-size="6.4" text-anchor="start" >100/100</text>
<text x="360" y="445" font-size="6.4" text-anchor="start" >100/100</text>
<text x="262" y="442.3" font-size="6.4" text-anchor="start" >99.3/100</text>
<text x="216" y="460.8" font-size="6.4" text-anchor="start" >98.2/100</text>
<text x="73" y="487.2" font-size="6.4" text-anchor="start" >96.3/100</text>
<rect x="20" y="14" width="130" height="161" fill="#fff" fill-opacity="0.93"/>
<rect x="26.6" y="18.8" width="13.6" height="13.2" fill="#169a6c"/>
<text x="46" y="28.4" font-size="9.45" text-anchor="start" stroke="#0d0d0d" stroke-width="0.15">Brazil</text>
<rect x="26.6" y="35.7" width="13.6" height="13.2" fill="#00ccff"/>
<text x="46" y="45.6" font-size="9.45" text-anchor="start" stroke="#0d0d0d" stroke-width="0.15">Argentina</text>
<rect x="26.6" y="52.7" width="13.6" height="13.2" fill="#0033cc"/>
<text x="46" y="62.8" font-size="9.45" text-anchor="start" stroke="#0d0d0d" stroke-width="0.15">North America</text>
<rect x="26.6" y="69.6" width="13.6" height="13.2" fill="#ff0040"/>
<text x="46" y="80" font-size="9.45" text-anchor="start" stroke="#0d0d0d" stroke-width="0.15">Asia</text>
<rect x="26.6" y="86.5" width="13.6" height="13.2" fill="#50ff00"/>
<text x="46" y="97.2" font-size="9.45" text-anchor="start" stroke="#0d0d0d" stroke-width="0.15">Mexico</text>
<rect x="26.6" y="103.5" width="13.6" height="13.2" fill="#ff7040"/>
<text x="46" y="114.4" font-size="9.45" text-anchor="start" stroke="#0d0d0d" stroke-width="0.15">Australia</text>
<rect x="26.6" y="120.4" width="13.6" height="13.2" fill="#ff90ff"/>
<text x="46" y="131.6" font-size="9.45" text-anchor="start" stroke="#0d0d0d" stroke-width="0.15">Chile</text>
<rect x="26.6" y="137.3" width="13.6" height="13.2" fill="#ffc800"/>
<text x="46" y="148.8" font-size="9.45" text-anchor="start" stroke="#0d0d0d" stroke-width="0.15">Europe</text>
<rect x="26.6" y="154.2" width="13.6" height="13.2" fill="#808080"/>
<text x="46" y="166" font-size="9.45" text-anchor="start" stroke="#0d0d0d" stroke-width="0.15">Human seasonal N2</text>
<path d="M12.6 523.4H530" stroke="#000" stroke-width="1.1"/>
<path d="M12.7 522.6V525.2" stroke="#000" stroke-width="1"/>
<text x="12.7" y="534.2" font-size="7.6" text-anchor="middle" >1960</text>
<path d="M55.8 522.6V525.2" stroke="#000" stroke-width="1"/>
<path d="M98.8 522.6V525.2" stroke="#000" stroke-width="1"/>
<text x="98.8" y="534.2" font-size="7.6" text-anchor="middle" >1970</text>
<path d="M141.9 522.6V525.2" stroke="#000" stroke-width="1"/>
<path d="M185 522.6V525.2" stroke="#000" stroke-width="1"/>
<text x="185" y="534.2" font-size="7.6" text-anchor="middle" >1980</text>
<path d="M228.1 522.6V525.2" stroke="#000" stroke-width="1"/>
<path d="M271.2 522.6V525.2" stroke="#000" stroke-width="1"/>
<text x="271.2" y="534.2" font-size="7.6" text-anchor="middle" >1990</text>
<path d="M314.3 522.6V525.2" stroke="#000" stroke-width="1"/>
<path d="M357.3 522.6V525.2" stroke="#000" stroke-width="1"/>
<text x="357.3" y="534.2" font-size="7.6" text-anchor="middle" >2000</text>
<path d="M400.4 522.6V525.2" stroke="#000" stroke-width="1"/>
<path d="M443.5 522.6V525.2" stroke="#000" stroke-width="1"/>
<text x="443.5" y="534.2" font-size="7.6" text-anchor="middle" >2010</text>
<path d="M486.6 522.6V525.2" stroke="#000" stroke-width="1"/>
<path d="M529.7 522.6V525.2" stroke="#000" stroke-width="1"/>
<text x="529.7" y="534.2" font-size="7.6" text-anchor="middle" >2020</text>
<path d="M261 509.2H312.6" stroke="#000" stroke-width="1.7"/>
<text x="287" y="519.6" font-size="7.4" text-anchor="middle" >6.0</text>
<text transform="translate(533 37.4) scale(0.93 1)" font-size="11.8" stroke="#0d0d0d" stroke-width="0.2">#1</text>
<text transform="translate(533 59.6) scale(0.93 1)" font-size="11.8" stroke="#0d0d0d" stroke-width="0.2">#2</text>
<text transform="translate(533 97.6) scale(0.93 1)" font-size="11.8" stroke="#0d0d0d" stroke-width="0.2">#3</text>
<text transform="translate(533 247.2) scale(0.93 1)" font-size="11.8" stroke="#0d0d0d" stroke-width="0.2">#4</text>
<text transform="translate(533 352.2) scale(0.93 1)" font-size="11.8" stroke="#0d0d0d" stroke-width="0.2">#5</text>
<text transform="translate(533 395.2) scale(0.93 1)" font-size="11.8" stroke="#0d0d0d" stroke-width="0.2">#6</text>
</svg>
</body></html>
